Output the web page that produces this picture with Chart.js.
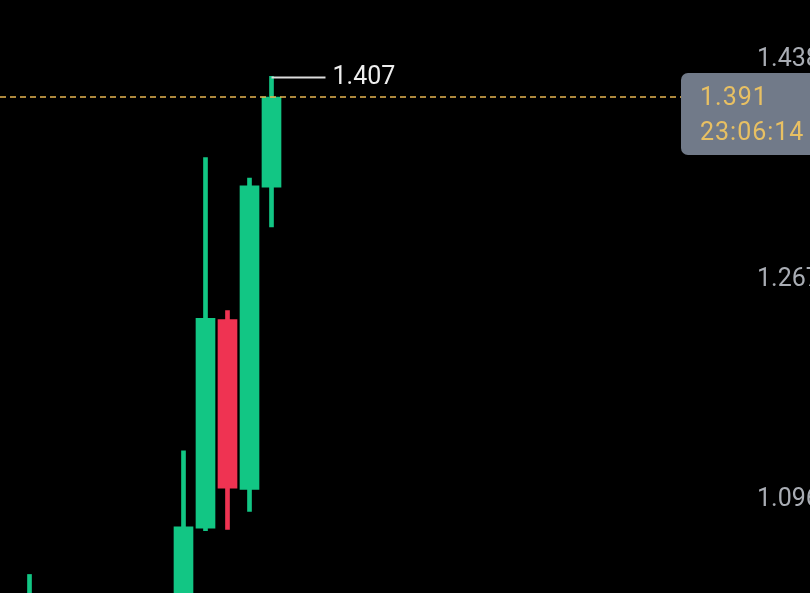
<!DOCTYPE html>
<html>
<head>
<meta charset="utf-8">
<script src="https://cdn.jsdelivr.net/npm/chart.js@4/dist/chart.umd.min.js"></script>
<style>
  html, body { margin: 0; padding: 0; background: #000; overflow: hidden; }
  canvas { display: block; }
</style>
</head>
<body>
<canvas id="c" width="810" height="593"></canvas>
<script>
// Candle indices (time slots); slots 1-6 are below the visible range
const candleIndex = [0, 7, 8, 9, 10, 11];
const openVals  = [0.975, 0.969, 1.056, 1.218, 1.086, 1.321];
const closeVals = [1.000, 1.057, 1.219, 1.087, 1.322, 1.391];
const highVals  = [1.020, 1.116, 1.344, 1.225, 1.328, 1.407];
const lowVals   = [0.965, 0.950, 1.054, 1.055, 1.069, 1.290];
const tickValues = [1.096, 1.267, 1.438];
const lastPrice = 1.391;
const lastPriceLabel = '1.391';
const countdownLabel = '23:06:14';
const highLabel = '1.407';

const GREEN = '#12c684';
const RED = '#ef3352';
const colors = openVals.map((o, i) => closeVals[i] >= o ? GREEN : RED);

const wickData = candleIndex.map((x, i) => ({ x, y: [lowVals[i], highVals[i]] }));
const bodyData = candleIndex.map((x, i) => ({ x, y: [openVals[i], closeVals[i]] }));

const FONT = 'Roboto, "DejaVu Sans", sans-serif';

const overlay = {
  id: 'overlay',
  beforeDraw(chart) {
    const ctx = chart.ctx;
    ctx.save();
    ctx.fillStyle = '#000';
    ctx.fillRect(0, 0, chart.width, chart.height);
    ctx.restore();
  },
  afterDatasetsDraw(chart) {
    const ctx = chart.ctx;
    const ys = chart.scales.y, xs = chart.scales.x;
    const py = ys.getPixelForValue(lastPrice);
    ctx.save();
    // dashed last price line
    ctx.strokeStyle = '#e6b552';
    ctx.lineWidth = 1.6;
    ctx.setLineDash([6, 4]);
    ctx.beginPath();
    ctx.moveTo(0, py);
    ctx.lineTo(681, py);
    ctx.stroke();
    ctx.setLineDash([]);
    // high marker
    const hi = Math.max(...highVals);
    const hiIdx = highVals.indexOf(hi);
    const hx = xs.getPixelForValue(candleIndex[hiIdx]);
    const hy = ys.getPixelForValue(hi);
    ctx.strokeStyle = '#dcdcdc';
    ctx.lineWidth = 2;
    ctx.beginPath();
    ctx.moveTo(hx, hy + 1);
    ctx.lineTo(hx + 54, hy + 1);
    ctx.stroke();
    ctx.fillStyle = '#eeeeee';
    ctx.font = '25px ' + FONT;
    ctx.textBaseline = 'middle';
    ctx.textAlign = 'left';
    ctx.fillText(highLabel, hx + 61, hy + 1);
    // price label box
    const bx = 681, by = py - 24, bw = 160, bh = 82, r = 7;
    ctx.fillStyle = '#717a89';
    ctx.beginPath();
    ctx.moveTo(bx + r, by);
    ctx.lineTo(bx + bw, by);
    ctx.lineTo(bx + bw, by + bh);
    ctx.lineTo(bx + r, by + bh);
    ctx.arcTo(bx, by + bh, bx, by + bh - r, r);
    ctx.lineTo(bx, by + r);
    ctx.arcTo(bx, by, bx + r, by, r);
    ctx.closePath();
    ctx.fill();
    ctx.fillStyle = '#e8c063';
    ctx.font = '25px ' + FONT;
    ctx.letterSpacing = '1px';
    ctx.fillText(lastPriceLabel, 700, py + 2);
    ctx.fillText(countdownLabel, 700, py + 37);
    ctx.restore();
  }
};

new Chart(document.getElementById('c'), {
  type: 'bar',
  data: {
    datasets: [
      { label: 'wick', data: wickData, backgroundColor: colors, barThickness: 4, grouped: false, borderWidth: 0, order: 2 },
      { label: 'body', data: bodyData, backgroundColor: colors, barThickness: 19, grouped: false, borderWidth: 0, order: 1 }
    ]
  },
  plugins: [overlay],
  options: {
    responsive: false,
    animation: false,
    events: [],
    layout: { padding: 0 },
    plugins: { legend: { display: false }, tooltip: { enabled: false } },
    scales: {
      x: {
        type: 'linear',
        offset: false,
        min: -1.341,
        max: 32.75,
        display: false,
        grid: { offset: false }
      },
      y: {
        position: 'right',
        min: 1.0056,
        max: 1.4664,
        grid: { display: false, drawTicks: false },
        border: { display: false },
        afterFit(scale) {
          scale.width = 60;
          scale.paddingTop = 0; scale.paddingBottom = 0;
          scale.paddingLeft = 0; scale.paddingRight = 0;
        },
        afterBuildTicks(scale) { scale.ticks = tickValues.map(v => ({ value: v })); },
        ticks: {
          color: '#a9adb4',
          font: { family: FONT, size: 25 },
          crossAlign: 'near',
          padding: 7,
          labelOffset: 23,
          callback: v => Number(v).toFixed(3)
        }
      }
    }
  }
});
</script>
</body>
</html>
